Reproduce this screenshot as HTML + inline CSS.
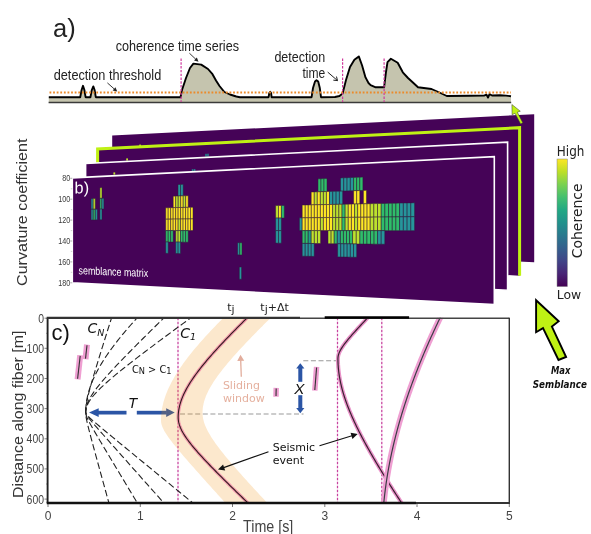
<!DOCTYPE html>
<html><head><meta charset="utf-8"><title>figure</title>
<style>html,body{margin:0;padding:0;background:#fff;} svg{display:block;}</style></head>
<body><svg width="591" height="534" viewBox="0 0 591 534">
<rect width="591" height="534" fill="#fff"/>
<text x="53" y="36.6" font-family="'Liberation Sans', Arial, sans-serif" font-size="25.5" fill="#222">a)</text>
<polygon points="48.80,102.40 48.80,97.20 80.20,97.20 81.60,90.00 83.00,85.80 84.40,90.00 85.60,97.20 90.40,97.20 91.80,90.00 93.30,86.40 94.60,90.00 95.80,97.20 180.50,97.20 182.00,90.00 186.00,78.00 190.00,68.00 193.40,63.60 201.20,64.60 208.00,69.00 212.50,74.20 216.00,80.50 219.50,86.00 224.40,92.00 230.00,94.50 236.30,96.50 240.00,97.20 268.60,97.20 269.30,93.00 270.20,91.80 271.10,93.00 271.60,97.20 311.60,97.20 313.00,88.00 315.00,81.50 316.50,80.20 318.20,81.50 319.80,88.00 321.00,97.20 335.00,97.00 339.50,96.00 342.60,93.50 346.00,80.00 350.00,67.00 354.40,59.80 358.80,56.40 362.10,65.50 365.50,77.40 368.50,83.00 370.60,85.20 375.70,87.30 384.10,87.30 386.00,72.00 387.50,62.10 390.90,58.80 397.70,62.80 402.80,72.30 408.00,78.00 412.90,82.50 418.00,87.30 431.50,89.00 438.30,92.00 446.80,96.00 470.00,95.80 484.00,95.60 486.50,94.60 488.00,97.60 489.50,94.20 492.00,95.50 500.00,95.30 506.00,95.60 511.00,96.30 511.00,102.40" fill="#c5c4ae"/>
<line x1="48.6" y1="102.5" x2="511.2" y2="102.5" stroke="#3a3a3a" stroke-width="1.3"/>
<polyline points="48.80,97.20 80.20,97.20 81.60,90.00 83.00,85.80 84.40,90.00 85.60,97.20 90.40,97.20 91.80,90.00 93.30,86.40 94.60,90.00 95.80,97.20 180.50,97.20 182.00,90.00 186.00,78.00 190.00,68.00 193.40,63.60 201.20,64.60 208.00,69.00 212.50,74.20 216.00,80.50 219.50,86.00 224.40,92.00 230.00,94.50 236.30,96.50 240.00,97.20 268.60,97.20 269.30,93.00 270.20,91.80 271.10,93.00 271.60,97.20 311.60,97.20 313.00,88.00 315.00,81.50 316.50,80.20 318.20,81.50 319.80,88.00 321.00,97.20 335.00,97.00 339.50,96.00 342.60,93.50 346.00,80.00 350.00,67.00 354.40,59.80 358.80,56.40 362.10,65.50 365.50,77.40 368.50,83.00 370.60,85.20 375.70,87.30 384.10,87.30 386.00,72.00 387.50,62.10 390.90,58.80 397.70,62.80 402.80,72.30 408.00,78.00 412.90,82.50 418.00,87.30 431.50,89.00 438.30,92.00 446.80,96.00 470.00,95.80 484.00,95.60 486.50,94.60 488.00,97.60 489.50,94.20 492.00,95.50 500.00,95.30 506.00,95.60 511.00,96.30" fill="none" stroke="#000" stroke-width="1.9" stroke-linejoin="round"/>
<line x1="49.5" y1="92.5" x2="511" y2="92.5" stroke="#ec8a2a" stroke-width="2" stroke-dasharray="1.8 1.8"/>
<line x1="181.1" y1="58.5" x2="181.1" y2="102" stroke="#d0399d" stroke-width="1.2" stroke-dasharray="2.4 1.4"/>
<line x1="342.6" y1="58.5" x2="342.6" y2="102" stroke="#d0399d" stroke-width="1.2" stroke-dasharray="2.4 1.4"/>
<line x1="384.1" y1="58.5" x2="384.1" y2="102" stroke="#d0399d" stroke-width="1.2" stroke-dasharray="2.4 1.4"/>
<text x="53.7" y="80.3" font-family="'Liberation Sans', Arial, sans-serif" font-size="14.4" fill="#222" textLength="107.6" lengthAdjust="spacingAndGlyphs">detection threshold</text>
<line x1="107.40" y1="82.90" x2="114.43" y2="89.14" stroke="#222" stroke-width="0.9"/><polygon points="117.20,91.60 112.66,90.38 115.45,87.24" fill="#222"/>
<text x="115.7" y="51" font-family="'Liberation Sans', Arial, sans-serif" font-size="14.4" fill="#222" textLength="123.3" lengthAdjust="spacingAndGlyphs">coherence time series</text>
<line x1="189.40" y1="53.20" x2="195.81" y2="59.26" stroke="#222" stroke-width="0.9"/><polygon points="198.50,61.80 194.01,60.44 196.89,57.39" fill="#222"/>
<text x="274.4" y="61.9" font-family="'Liberation Sans', Arial, sans-serif" font-size="14.4" fill="#222" textLength="50.8" lengthAdjust="spacingAndGlyphs">detection</text>
<text x="302.4" y="77.7" font-family="'Liberation Sans', Arial, sans-serif" font-size="14.4" fill="#222" textLength="22.8" lengthAdjust="spacingAndGlyphs">time</text>
<line x1="327.70" y1="72.10" x2="337.50" y2="80.60" stroke="#222" stroke-width="1.0"/><polyline points="336.48,76.53 337.50,80.60 333.32,80.17" fill="none" stroke="#222" stroke-width="1.0"/>
<polygon points="112.20,135.60 534.20,114.30 534.20,262.30 112.20,240.60" fill="#450357"/>
<rect x="139.2" y="144.6" width="1.8" height="2.2" fill="#bde22e"/>
<polygon points="97.60,149.00 519.60,127.70 519.60,275.70 97.60,254.00" fill="#450357"/>
<polyline points="97.60,254.00 97.60,149.00 519.60,127.70 519.60,275.70" fill="none" stroke="#bff114" stroke-width="3" stroke-linejoin="miter"/>
<rect x="126.2" y="158.4" width="1.8" height="2.2" fill="#bde22e"/>
<rect x="205.2" y="153.8" width="1.6" height="2.8" fill="#26828e"/><rect x="207.2" y="153.7" width="1.6" height="2.8" fill="#26828e"/>
<polygon points="85.60,163.50 507.60,142.20 507.60,290.20 85.60,268.50" fill="#450357" stroke="#fff" stroke-width="1.6"/>
<rect x="113.4" y="172.4" width="1.8" height="2.2" fill="#bde22e"/>
<rect x="191.8" y="169.2" width="1.6" height="2.8" fill="#26828e"/><rect x="193.8" y="169.1" width="1.6" height="2.8" fill="#26828e"/>
<polygon points="72.30,177.90 494.30,156.60 494.30,304.60 72.30,282.90" fill="#450357" stroke="#fff" stroke-width="1.6"/>
<polygon points="99.90,187.66 102.00,187.58 102.00,198.32 99.90,198.39" fill="#bde22e" stroke="#2e1838" stroke-width="0.5"/>
<polygon points="91.10,198.65 93.20,198.59 93.20,209.24 91.10,209.29" fill="#26959b" stroke="#2e1838" stroke-width="0.5"/>
<polygon points="93.20,198.59 95.30,198.53 95.30,209.20 93.20,209.24" fill="#bde22e" stroke="#2e1838" stroke-width="0.5"/>
<polygon points="99.90,198.39 101.90,198.33 101.90,209.07 99.90,209.11" fill="#2fbd6a" stroke="#2e1838" stroke-width="0.5"/>
<polygon points="101.90,198.33 103.90,198.27 103.90,209.03 101.90,209.07" fill="#26959b" stroke="#2e1838" stroke-width="0.5"/>
<polygon points="91.10,209.29 93.20,209.24 93.20,219.90 91.10,219.92" fill="#26959b" stroke="#2e1838" stroke-width="0.5"/>
<polygon points="93.20,209.24 95.30,209.20 95.30,219.88 93.20,219.90" fill="#2fbd6a" stroke="#2e1838" stroke-width="0.5"/>
<polygon points="95.30,209.20 97.40,209.16 97.40,219.86 95.30,219.88" fill="#26959b" stroke="#2e1838" stroke-width="0.5"/>
<polygon points="99.90,209.11 102.00,209.07 102.00,219.81 99.90,219.83" fill="#26959b" stroke="#2e1838" stroke-width="0.5"/>
<polygon points="178.00,184.51 180.60,184.41 180.60,195.95 178.00,196.03" fill="#26959b" stroke="#2e1838" stroke-width="0.5"/>
<polygon points="180.60,184.41 183.20,184.30 183.20,195.87 180.60,195.95" fill="#26959b" stroke="#2e1838" stroke-width="0.5"/>
<polygon points="173.20,196.17 175.70,196.10 175.70,207.59 173.20,207.64" fill="#fde725" stroke="#2e1838" stroke-width="0.5"/>
<polygon points="175.70,196.10 178.20,196.02 178.20,207.54 175.70,207.59" fill="#bde22e" stroke="#2e1838" stroke-width="0.5"/>
<polygon points="178.20,196.02 180.70,195.95 180.70,207.49 178.20,207.54" fill="#bde22e" stroke="#2e1838" stroke-width="0.5"/>
<polygon points="180.70,195.95 183.20,195.87 183.20,207.44 180.70,207.49" fill="#fde725" stroke="#2e1838" stroke-width="0.5"/>
<polygon points="183.20,195.87 185.70,195.80 185.70,207.39 183.20,207.44" fill="#bde22e" stroke="#2e1838" stroke-width="0.5"/>
<polygon points="185.70,195.80 188.20,195.72 188.20,207.34 185.70,207.39" fill="#fde725" stroke="#2e1838" stroke-width="0.5"/>
<polygon points="165.70,207.79 168.18,207.74 168.18,219.16 165.70,219.18" fill="#fde725" stroke="#2e1838" stroke-width="0.5"/>
<polygon points="168.18,207.74 170.66,207.69 170.66,219.13 168.18,219.16" fill="#fde725" stroke="#2e1838" stroke-width="0.5"/>
<polygon points="170.66,207.69 173.15,207.64 173.15,219.11 170.66,219.13" fill="#fde725" stroke="#2e1838" stroke-width="0.5"/>
<polygon points="173.15,207.64 175.63,207.59 175.63,219.08 173.15,219.11" fill="#fde725" stroke="#2e1838" stroke-width="0.5"/>
<polygon points="175.63,207.59 178.11,207.54 178.11,219.06 175.63,219.08" fill="#fde725" stroke="#2e1838" stroke-width="0.5"/>
<polygon points="178.11,207.54 180.59,207.49 180.59,219.03 178.11,219.06" fill="#fde725" stroke="#2e1838" stroke-width="0.5"/>
<polygon points="180.59,207.49 183.07,207.44 183.07,219.01 180.59,219.03" fill="#fde725" stroke="#2e1838" stroke-width="0.5"/>
<polygon points="183.07,207.44 185.55,207.39 185.55,218.99 183.07,219.01" fill="#fde725" stroke="#2e1838" stroke-width="0.5"/>
<polygon points="185.55,207.39 188.04,207.34 188.04,218.96 185.55,218.99" fill="#fde725" stroke="#2e1838" stroke-width="0.5"/>
<polygon points="188.04,207.34 190.52,207.29 190.52,218.94 188.04,218.96" fill="#fde725" stroke="#2e1838" stroke-width="0.5"/>
<polygon points="190.52,207.29 193.00,207.24 193.00,218.91 190.52,218.94" fill="#fde725" stroke="#2e1838" stroke-width="0.5"/>
<polygon points="165.70,219.18 168.18,219.16 168.18,230.57 165.70,230.57" fill="#fde725" stroke="#2e1838" stroke-width="0.5"/>
<polygon points="168.18,219.16 170.66,219.13 170.66,230.57 168.18,230.57" fill="#fde725" stroke="#2e1838" stroke-width="0.5"/>
<polygon points="170.66,219.13 173.15,219.11 173.15,230.58 170.66,230.57" fill="#fde725" stroke="#2e1838" stroke-width="0.5"/>
<polygon points="173.15,219.11 175.63,219.08 175.63,230.58 173.15,230.58" fill="#fde725" stroke="#2e1838" stroke-width="0.5"/>
<polygon points="175.63,219.08 178.11,219.06 178.11,230.58 175.63,230.58" fill="#fde725" stroke="#2e1838" stroke-width="0.5"/>
<polygon points="178.11,219.06 180.59,219.03 180.59,230.58 178.11,230.58" fill="#bde22e" stroke="#2e1838" stroke-width="0.5"/>
<polygon points="180.59,219.03 183.07,219.01 183.07,230.58 180.59,230.58" fill="#fde725" stroke="#2e1838" stroke-width="0.5"/>
<polygon points="183.07,219.01 185.55,218.99 185.55,230.58 183.07,230.58" fill="#fde725" stroke="#2e1838" stroke-width="0.5"/>
<polygon points="185.55,218.99 188.04,218.96 188.04,230.58 185.55,230.58" fill="#fde725" stroke="#2e1838" stroke-width="0.5"/>
<polygon points="188.04,218.96 190.52,218.94 190.52,230.58 188.04,230.58" fill="#fde725" stroke="#2e1838" stroke-width="0.5"/>
<polygon points="190.52,218.94 193.00,218.91 193.00,230.58 190.52,230.58" fill="#fde725" stroke="#2e1838" stroke-width="0.5"/>
<polygon points="165.70,230.57 168.20,230.57 168.20,241.99 165.70,241.96" fill="#2fbd6a" stroke="#2e1838" stroke-width="0.5"/>
<polygon points="168.20,230.57 170.70,230.57 170.70,242.02 168.20,241.99" fill="#2fbd6a" stroke="#2e1838" stroke-width="0.5"/>
<polygon points="170.70,230.57 173.20,230.58 173.20,242.04 170.70,242.02" fill="#2fbd6a" stroke="#2e1838" stroke-width="0.5"/>
<polygon points="175.70,230.58 178.10,230.58 178.10,242.09 175.70,242.07" fill="#bde22e" stroke="#2e1838" stroke-width="0.5"/>
<polygon points="178.10,230.58 180.50,230.58 180.50,242.12 178.10,242.09" fill="#bde22e" stroke="#2e1838" stroke-width="0.5"/>
<polygon points="180.50,230.58 183.07,230.58 183.07,242.14 180.50,242.12" fill="#2fbd6a" stroke="#2e1838" stroke-width="0.5"/>
<polygon points="183.07,230.58 185.63,230.58 185.63,242.17 183.07,242.14" fill="#2fbd6a" stroke="#2e1838" stroke-width="0.5"/>
<polygon points="185.63,230.58 188.20,230.58 188.20,242.20 185.63,242.17" fill="#2fbd6a" stroke="#2e1838" stroke-width="0.5"/>
<polygon points="165.70,241.96 168.20,241.99 168.20,253.41 165.70,253.35" fill="#26959b" stroke="#2e1838" stroke-width="0.5"/>
<polygon points="175.70,242.07 178.10,242.09 178.10,253.61 175.70,253.56" fill="#26959b" stroke="#2e1838" stroke-width="0.5"/>
<polygon points="178.10,242.09 180.50,242.12 180.50,253.66 178.10,253.61" fill="#26959b" stroke="#2e1838" stroke-width="0.5"/>
<polygon points="237.60,242.71 239.80,242.73 239.80,254.88 237.60,254.83" fill="#26959b" stroke="#2e1838" stroke-width="0.5"/>
<polygon points="239.80,242.73 242.00,242.76 242.00,254.92 239.80,254.88" fill="#2fbd6a" stroke="#2e1838" stroke-width="0.5"/>
<polygon points="239.30,267.01 241.60,267.08 241.60,279.24 239.30,279.14" fill="#26959b" stroke="#2e1838" stroke-width="0.5"/>
<polygon points="275.60,205.59 278.50,205.53 278.50,218.07 275.60,218.09" fill="#bde22e" stroke="#2e1838" stroke-width="0.5"/>
<polygon points="278.50,205.53 281.40,205.47 281.40,218.04 278.50,218.07" fill="#fde725" stroke="#2e1838" stroke-width="0.5"/>
<polygon points="281.40,205.47 284.30,205.41 284.30,218.01 281.40,218.04" fill="#2fbd6a" stroke="#2e1838" stroke-width="0.5"/>
<polygon points="275.60,218.09 278.50,218.07 278.50,230.60 275.60,230.60" fill="#26959b" stroke="#2e1838" stroke-width="0.5"/>
<polygon points="278.50,218.07 281.40,218.04 281.40,230.60 278.50,230.60" fill="#26959b" stroke="#2e1838" stroke-width="0.5"/>
<polygon points="275.60,230.60 278.50,230.60 278.50,243.14 275.60,243.11" fill="#26959b" stroke="#2e1838" stroke-width="0.5"/>
<polygon points="278.50,230.60 281.40,230.60 281.40,243.17 278.50,243.14" fill="#26959b" stroke="#2e1838" stroke-width="0.5"/>
<polygon points="318.00,178.86 321.00,178.74 321.00,191.71 318.00,191.80" fill="#2fbd6a" stroke="#2e1838" stroke-width="0.5"/>
<polygon points="321.00,178.74 324.00,178.62 324.00,191.62 321.00,191.71" fill="#2fbd6a" stroke="#2e1838" stroke-width="0.5"/>
<polygon points="324.00,178.62 327.00,178.50 327.00,191.53 324.00,191.62" fill="#2fbd6a" stroke="#2e1838" stroke-width="0.5"/>
<polygon points="340.50,177.96 343.77,177.82 343.77,191.02 340.50,191.12" fill="#26959b" stroke="#2e1838" stroke-width="0.5"/>
<polygon points="343.77,177.82 347.05,177.69 347.05,190.92 343.77,191.02" fill="#26959b" stroke="#2e1838" stroke-width="0.5"/>
<polygon points="347.05,177.69 350.33,177.56 350.33,190.82 347.05,190.92" fill="#26959b" stroke="#2e1838" stroke-width="0.5"/>
<polygon points="350.33,177.56 353.60,177.43 353.60,190.73 350.33,190.82" fill="#26959b" stroke="#2e1838" stroke-width="0.5"/>
<polygon points="353.60,177.43 356.70,177.30 356.70,190.63 353.60,190.73" fill="#2fbd6a" stroke="#2e1838" stroke-width="0.5"/>
<polygon points="356.70,177.30 359.80,177.18 359.80,190.54 356.70,190.63" fill="#2fbd6a" stroke="#2e1838" stroke-width="0.5"/>
<polygon points="359.80,177.18 362.90,177.05 362.90,190.45 359.80,190.54" fill="#2fbd6a" stroke="#2e1838" stroke-width="0.5"/>
<polygon points="311.20,192.01 314.25,191.91 314.25,204.81 311.20,204.87" fill="#fde725" stroke="#2e1838" stroke-width="0.5"/>
<polygon points="314.25,191.91 317.30,191.82 317.30,204.75 314.25,204.81" fill="#bde22e" stroke="#2e1838" stroke-width="0.5"/>
<polygon points="317.30,191.82 320.35,191.73 320.35,204.69 317.30,204.75" fill="#fde725" stroke="#2e1838" stroke-width="0.5"/>
<polygon points="320.35,191.73 323.40,191.64 323.40,204.63 320.35,204.69" fill="#bde22e" stroke="#2e1838" stroke-width="0.5"/>
<polygon points="323.40,191.64 326.45,191.55 326.45,204.57 323.40,204.63" fill="#bde22e" stroke="#2e1838" stroke-width="0.5"/>
<polygon points="326.45,191.55 329.50,191.45 329.50,204.51 326.45,204.57" fill="#fde725" stroke="#2e1838" stroke-width="0.5"/>
<polygon points="329.50,191.45 332.80,191.35 332.80,204.44 329.50,204.51" fill="#26959b" stroke="#2e1838" stroke-width="0.5"/>
<polygon points="332.80,191.35 336.10,191.25 336.10,204.37 332.80,204.44" fill="#26959b" stroke="#2e1838" stroke-width="0.5"/>
<polygon points="336.10,191.25 339.40,191.15 339.40,204.31 336.10,204.37" fill="#26959b" stroke="#2e1838" stroke-width="0.5"/>
<polygon points="339.40,191.15 342.70,191.06 342.70,204.24 339.40,204.31" fill="#26959b" stroke="#2e1838" stroke-width="0.5"/>
<polygon points="353.60,190.73 356.70,190.63 356.70,203.96 353.60,204.02" fill="#fde725" stroke="#2e1838" stroke-width="0.5"/>
<polygon points="356.70,190.63 359.80,190.54 359.80,203.90 356.70,203.96" fill="#fde725" stroke="#2e1838" stroke-width="0.5"/>
<polygon points="363.40,190.43 366.50,190.34 366.50,203.77 363.40,203.83" fill="#fde725" stroke="#2e1838" stroke-width="0.5"/>
<polygon points="302.20,205.05 305.23,204.99 305.23,217.80 302.20,217.83" fill="#fde725" stroke="#2e1838" stroke-width="0.5"/>
<polygon points="305.23,204.99 308.27,204.93 308.27,217.77 305.23,217.80" fill="#fde725" stroke="#2e1838" stroke-width="0.5"/>
<polygon points="308.27,204.93 311.30,204.87 311.30,217.74 308.27,217.77" fill="#fde725" stroke="#2e1838" stroke-width="0.5"/>
<polygon points="311.30,204.87 314.33,204.81 314.33,217.71 311.30,217.74" fill="#fde725" stroke="#2e1838" stroke-width="0.5"/>
<polygon points="314.33,204.81 317.37,204.75 317.37,217.68 314.33,217.71" fill="#fde725" stroke="#2e1838" stroke-width="0.5"/>
<polygon points="317.37,204.75 320.40,204.69 320.40,217.65 317.37,217.68" fill="#fde725" stroke="#2e1838" stroke-width="0.5"/>
<polygon points="320.40,204.69 323.43,204.63 323.43,217.62 320.40,217.65" fill="#fde725" stroke="#2e1838" stroke-width="0.5"/>
<polygon points="323.43,204.63 326.47,204.57 326.47,217.59 323.43,217.62" fill="#fde725" stroke="#2e1838" stroke-width="0.5"/>
<polygon points="326.47,204.57 329.50,204.51 329.50,217.56 326.47,217.59" fill="#fde725" stroke="#2e1838" stroke-width="0.5"/>
<polygon points="329.50,204.51 332.63,204.44 332.63,217.53 329.50,217.56" fill="#fde725" stroke="#2e1838" stroke-width="0.5"/>
<polygon points="332.63,204.44 335.76,204.38 335.76,217.50 332.63,217.53" fill="#bde22e" stroke="#2e1838" stroke-width="0.5"/>
<polygon points="335.76,204.38 338.89,204.32 338.89,217.47 335.76,217.50" fill="#bde22e" stroke="#2e1838" stroke-width="0.5"/>
<polygon points="338.89,204.32 342.02,204.26 342.02,217.44 338.89,217.47" fill="#bde22e" stroke="#2e1838" stroke-width="0.5"/>
<polygon points="342.02,204.26 345.15,204.19 345.15,217.41 342.02,217.44" fill="#2fbd6a" stroke="#2e1838" stroke-width="0.5"/>
<polygon points="345.15,204.19 348.28,204.13 348.28,217.37 345.15,217.41" fill="#bde22e" stroke="#2e1838" stroke-width="0.5"/>
<polygon points="348.28,204.13 351.42,204.07 351.42,217.34 348.28,217.37" fill="#fde725" stroke="#2e1838" stroke-width="0.5"/>
<polygon points="351.42,204.07 354.55,204.00 354.55,217.31 351.42,217.34" fill="#fde725" stroke="#2e1838" stroke-width="0.5"/>
<polygon points="354.55,204.00 357.68,203.94 357.68,217.28 354.55,217.31" fill="#bde22e" stroke="#2e1838" stroke-width="0.5"/>
<polygon points="357.68,203.94 360.81,203.88 360.81,217.25 357.68,217.28" fill="#fde725" stroke="#2e1838" stroke-width="0.5"/>
<polygon points="360.81,203.88 363.94,203.82 363.94,217.22 360.81,217.25" fill="#fde725" stroke="#2e1838" stroke-width="0.5"/>
<polygon points="363.94,203.82 367.07,203.75 367.07,217.19 363.94,217.22" fill="#fde725" stroke="#2e1838" stroke-width="0.5"/>
<polygon points="367.07,203.75 370.20,203.69 370.20,217.16 367.07,217.19" fill="#fde725" stroke="#2e1838" stroke-width="0.5"/>
<polygon points="370.20,203.69 373.87,203.62 373.87,217.12 370.20,217.16" fill="#bde22e" stroke="#2e1838" stroke-width="0.5"/>
<polygon points="373.87,203.62 377.53,203.54 377.53,217.09 373.87,217.12" fill="#bde22e" stroke="#2e1838" stroke-width="0.5"/>
<polygon points="377.53,203.54 381.20,203.47 381.20,217.05 377.53,217.09" fill="#bde22e" stroke="#2e1838" stroke-width="0.5"/>
<polygon points="381.20,203.47 384.88,203.40 384.88,217.01 381.20,217.05" fill="#2fbd6a" stroke="#2e1838" stroke-width="0.5"/>
<polygon points="384.88,203.40 388.56,203.32 388.56,216.98 384.88,217.01" fill="#2fbd6a" stroke="#2e1838" stroke-width="0.5"/>
<polygon points="388.56,203.32 392.24,203.25 392.24,216.94 388.56,216.98" fill="#2fbd6a" stroke="#2e1838" stroke-width="0.5"/>
<polygon points="392.24,203.25 395.92,203.18 395.92,216.90 392.24,216.94" fill="#2fbd6a" stroke="#2e1838" stroke-width="0.5"/>
<polygon points="395.92,203.18 399.60,203.10 399.60,216.87 395.92,216.90" fill="#2fbd6a" stroke="#2e1838" stroke-width="0.5"/>
<polygon points="399.60,203.10 403.35,203.03 403.35,216.83 399.60,216.87" fill="#26959b" stroke="#2e1838" stroke-width="0.5"/>
<polygon points="403.35,203.03 407.10,202.95 407.10,216.79 403.35,216.83" fill="#26959b" stroke="#2e1838" stroke-width="0.5"/>
<polygon points="407.10,202.95 410.85,202.88 410.85,216.76 407.10,216.79" fill="#26959b" stroke="#2e1838" stroke-width="0.5"/>
<polygon points="410.85,202.88 414.60,202.80 414.60,216.72 410.85,216.76" fill="#26959b" stroke="#2e1838" stroke-width="0.5"/>
<polygon points="299.40,217.86 302.20,217.83 302.20,230.61 299.40,230.61" fill="#26959b" stroke="#2e1838" stroke-width="0.5"/>
<polygon points="302.20,217.83 305.23,217.80 305.23,230.61 302.20,230.61" fill="#fde725" stroke="#2e1838" stroke-width="0.5"/>
<polygon points="305.23,217.80 308.27,217.77 308.27,230.61 305.23,230.61" fill="#fde725" stroke="#2e1838" stroke-width="0.5"/>
<polygon points="308.27,217.77 311.30,217.74 311.30,230.61 308.27,230.61" fill="#fde725" stroke="#2e1838" stroke-width="0.5"/>
<polygon points="311.30,217.74 314.33,217.71 314.33,230.61 311.30,230.61" fill="#fde725" stroke="#2e1838" stroke-width="0.5"/>
<polygon points="314.33,217.71 317.37,217.68 317.37,230.61 314.33,230.61" fill="#fde725" stroke="#2e1838" stroke-width="0.5"/>
<polygon points="317.37,217.68 320.40,217.65 320.40,230.61 317.37,230.61" fill="#fde725" stroke="#2e1838" stroke-width="0.5"/>
<polygon points="320.40,217.65 323.43,217.62 323.43,230.61 320.40,230.61" fill="#bde22e" stroke="#2e1838" stroke-width="0.5"/>
<polygon points="323.43,217.62 326.47,217.59 326.47,230.61 323.43,230.61" fill="#fde725" stroke="#2e1838" stroke-width="0.5"/>
<polygon points="326.47,217.59 329.50,217.56 329.50,230.61 326.47,230.61" fill="#fde725" stroke="#2e1838" stroke-width="0.5"/>
<polygon points="329.50,217.56 332.63,217.53 332.63,230.61 329.50,230.61" fill="#fde725" stroke="#2e1838" stroke-width="0.5"/>
<polygon points="332.63,217.53 335.76,217.50 335.76,230.62 332.63,230.61" fill="#bde22e" stroke="#2e1838" stroke-width="0.5"/>
<polygon points="335.76,217.50 338.89,217.47 338.89,230.62 335.76,230.62" fill="#bde22e" stroke="#2e1838" stroke-width="0.5"/>
<polygon points="338.89,217.47 342.02,217.44 342.02,230.62 338.89,230.62" fill="#bde22e" stroke="#2e1838" stroke-width="0.5"/>
<polygon points="342.02,217.44 345.15,217.41 345.15,230.62 342.02,230.62" fill="#2fbd6a" stroke="#2e1838" stroke-width="0.5"/>
<polygon points="345.15,217.41 348.28,217.37 348.28,230.62 345.15,230.62" fill="#bde22e" stroke="#2e1838" stroke-width="0.5"/>
<polygon points="348.28,217.37 351.42,217.34 351.42,230.62 348.28,230.62" fill="#fde725" stroke="#2e1838" stroke-width="0.5"/>
<polygon points="351.42,217.34 354.55,217.31 354.55,230.62 351.42,230.62" fill="#fde725" stroke="#2e1838" stroke-width="0.5"/>
<polygon points="354.55,217.31 357.68,217.28 357.68,230.62 354.55,230.62" fill="#bde22e" stroke="#2e1838" stroke-width="0.5"/>
<polygon points="357.68,217.28 360.81,217.25 360.81,230.62 357.68,230.62" fill="#fde725" stroke="#2e1838" stroke-width="0.5"/>
<polygon points="360.81,217.25 363.94,217.22 363.94,230.62 360.81,230.62" fill="#fde725" stroke="#2e1838" stroke-width="0.5"/>
<polygon points="363.94,217.22 367.07,217.19 367.07,230.62 363.94,230.62" fill="#fde725" stroke="#2e1838" stroke-width="0.5"/>
<polygon points="367.07,217.19 370.20,217.16 370.20,230.62 367.07,230.62" fill="#fde725" stroke="#2e1838" stroke-width="0.5"/>
<polygon points="370.20,217.16 373.87,217.12 373.87,230.63 370.20,230.62" fill="#bde22e" stroke="#2e1838" stroke-width="0.5"/>
<polygon points="373.87,217.12 377.53,217.09 377.53,230.63 373.87,230.63" fill="#bde22e" stroke="#2e1838" stroke-width="0.5"/>
<polygon points="377.53,217.09 381.20,217.05 381.20,230.63 377.53,230.63" fill="#bde22e" stroke="#2e1838" stroke-width="0.5"/>
<polygon points="381.20,217.05 384.88,217.01 384.88,230.63 381.20,230.63" fill="#2fbd6a" stroke="#2e1838" stroke-width="0.5"/>
<polygon points="384.88,217.01 388.56,216.98 388.56,230.63 384.88,230.63" fill="#2fbd6a" stroke="#2e1838" stroke-width="0.5"/>
<polygon points="388.56,216.98 392.24,216.94 392.24,230.63 388.56,230.63" fill="#2fbd6a" stroke="#2e1838" stroke-width="0.5"/>
<polygon points="392.24,216.94 395.92,216.90 395.92,230.63 392.24,230.63" fill="#2fbd6a" stroke="#2e1838" stroke-width="0.5"/>
<polygon points="395.92,216.90 399.60,216.87 399.60,230.63 395.92,230.63" fill="#2fbd6a" stroke="#2e1838" stroke-width="0.5"/>
<polygon points="399.60,216.87 403.35,216.83 403.35,230.63 399.60,230.63" fill="#26959b" stroke="#2e1838" stroke-width="0.5"/>
<polygon points="403.35,216.83 407.10,216.79 407.10,230.63 403.35,230.63" fill="#26959b" stroke="#2e1838" stroke-width="0.5"/>
<polygon points="407.10,216.79 410.85,216.76 410.85,230.63 407.10,230.63" fill="#26959b" stroke="#2e1838" stroke-width="0.5"/>
<polygon points="410.85,216.76 414.60,216.72 414.60,230.64 410.85,230.63" fill="#26959b" stroke="#2e1838" stroke-width="0.5"/>
<polygon points="302.20,230.61 305.20,230.61 305.20,243.41 302.20,243.38" fill="#2fbd6a" stroke="#2e1838" stroke-width="0.5"/>
<polygon points="305.20,230.61 308.20,230.61 308.20,243.45 305.20,243.41" fill="#2fbd6a" stroke="#2e1838" stroke-width="0.5"/>
<polygon points="308.20,230.61 311.20,230.61 311.20,243.48 308.20,243.45" fill="#1fa088" stroke="#2e1838" stroke-width="0.5"/>
<polygon points="311.20,230.61 314.33,230.61 314.33,243.51 311.20,243.48" fill="#bde22e" stroke="#2e1838" stroke-width="0.5"/>
<polygon points="314.33,230.61 317.47,230.61 317.47,243.54 314.33,243.51" fill="#bde22e" stroke="#2e1838" stroke-width="0.5"/>
<polygon points="317.47,230.61 320.60,230.61 320.60,243.58 317.47,243.54" fill="#bde22e" stroke="#2e1838" stroke-width="0.5"/>
<polygon points="328.00,230.61 331.10,230.61 331.10,243.68 328.00,243.65" fill="#bde22e" stroke="#2e1838" stroke-width="0.5"/>
<polygon points="331.10,230.61 334.20,230.62 334.20,243.72 331.10,243.68" fill="#bde22e" stroke="#2e1838" stroke-width="0.5"/>
<polygon points="334.20,230.62 337.30,230.62 337.30,243.75 334.20,243.72" fill="#2fbd6a" stroke="#2e1838" stroke-width="0.5"/>
<polygon points="337.30,230.62 340.40,230.62 340.40,243.78 337.30,243.75" fill="#26959b" stroke="#2e1838" stroke-width="0.5"/>
<polygon points="340.40,230.62 343.45,230.62 343.45,243.81 340.40,243.78" fill="#2fbd6a" stroke="#2e1838" stroke-width="0.5"/>
<polygon points="343.45,230.62 346.50,230.62 346.50,243.84 343.45,243.81" fill="#2fbd6a" stroke="#2e1838" stroke-width="0.5"/>
<polygon points="346.50,230.62 349.55,230.62 349.55,243.88 346.50,243.84" fill="#2fbd6a" stroke="#2e1838" stroke-width="0.5"/>
<polygon points="349.55,230.62 352.60,230.62 352.60,243.91 349.55,243.88" fill="#2fbd6a" stroke="#2e1838" stroke-width="0.5"/>
<polygon points="352.60,230.62 356.25,230.62 356.25,243.95 352.60,243.91" fill="#bde22e" stroke="#2e1838" stroke-width="0.5"/>
<polygon points="356.25,230.62 359.90,230.62 359.90,243.98 356.25,243.95" fill="#bde22e" stroke="#2e1838" stroke-width="0.5"/>
<polygon points="359.90,230.62 363.44,230.62 363.44,244.02 359.90,243.98" fill="#2fbd6a" stroke="#2e1838" stroke-width="0.5"/>
<polygon points="363.44,230.62 366.98,230.62 366.98,244.06 363.44,244.02" fill="#2fbd6a" stroke="#2e1838" stroke-width="0.5"/>
<polygon points="366.98,230.62 370.52,230.62 370.52,244.09 366.98,244.06" fill="#2fbd6a" stroke="#2e1838" stroke-width="0.5"/>
<polygon points="370.52,230.62 374.06,230.63 374.06,244.13 370.52,244.09" fill="#2fbd6a" stroke="#2e1838" stroke-width="0.5"/>
<polygon points="374.06,230.63 377.60,230.63 377.60,244.17 374.06,244.13" fill="#2fbd6a" stroke="#2e1838" stroke-width="0.5"/>
<polygon points="377.60,230.63 381.20,230.63 381.20,244.21 377.60,244.17" fill="#26959b" stroke="#2e1838" stroke-width="0.5"/>
<polygon points="381.20,230.63 384.80,230.63 384.80,244.24 381.20,244.21" fill="#26959b" stroke="#2e1838" stroke-width="0.5"/>
<polygon points="302.20,243.38 305.20,243.41 305.20,256.22 302.20,256.16" fill="#26959b" stroke="#2e1838" stroke-width="0.5"/>
<polygon points="305.20,243.41 308.20,243.45 308.20,256.28 305.20,256.22" fill="#26959b" stroke="#2e1838" stroke-width="0.5"/>
<polygon points="308.20,243.45 311.20,243.48 311.20,256.35 308.20,256.28" fill="#26959b" stroke="#2e1838" stroke-width="0.5"/>
<polygon points="311.20,243.48 314.20,243.51 314.20,256.41 311.20,256.35" fill="#26959b" stroke="#2e1838" stroke-width="0.5"/>
<polygon points="337.60,243.75 340.78,243.78 340.78,256.95 337.60,256.89" fill="#26959b" stroke="#2e1838" stroke-width="0.5"/>
<polygon points="340.78,243.78 343.97,243.82 343.97,257.02 340.78,256.95" fill="#26959b" stroke="#2e1838" stroke-width="0.5"/>
<polygon points="343.97,243.82 347.15,243.85 347.15,257.08 343.97,257.02" fill="#26959b" stroke="#2e1838" stroke-width="0.5"/>
<polygon points="347.15,243.85 350.33,243.88 350.33,257.15 347.15,257.08" fill="#26959b" stroke="#2e1838" stroke-width="0.5"/>
<polygon points="350.33,243.88 353.52,243.92 353.52,257.21 350.33,257.15" fill="#26959b" stroke="#2e1838" stroke-width="0.5"/>
<polygon points="353.52,243.92 356.70,243.95 356.70,257.28 353.52,257.21" fill="#26959b" stroke="#2e1838" stroke-width="0.5"/>
<text x="74.6" y="193.6" font-family="'Liberation Sans', Arial, sans-serif" font-size="16.3" fill="#fff" transform="skewY(-2.6)" transform-origin="75 190">b)</text>
<text x="78.6" y="274.2" font-family="'Liberation Sans', Arial, sans-serif" font-size="11.2" fill="#fff" textLength="69.5" lengthAdjust="spacingAndGlyphs" transform="skewY(2.3)" transform-origin="79 275">semblance matrix</text>
<text x="70.3" y="181.2" font-family="'Liberation Sans', Arial, sans-serif" font-size="9" fill="#3a3a3a" text-anchor="end" textLength="8.0" lengthAdjust="spacingAndGlyphs">80</text>
<line x1="70.2" y1="178.3" x2="72.3" y2="178.3" stroke="#999" stroke-width="0.8"/>
<text x="70.3" y="202.1" font-family="'Liberation Sans', Arial, sans-serif" font-size="9" fill="#3a3a3a" text-anchor="end" textLength="12.0" lengthAdjust="spacingAndGlyphs">100</text>
<line x1="70.2" y1="199.2" x2="72.3" y2="199.2" stroke="#999" stroke-width="0.8"/>
<text x="70.3" y="223.0" font-family="'Liberation Sans', Arial, sans-serif" font-size="9" fill="#3a3a3a" text-anchor="end" textLength="12.0" lengthAdjust="spacingAndGlyphs">120</text>
<line x1="70.2" y1="220.1" x2="72.3" y2="220.1" stroke="#999" stroke-width="0.8"/>
<text x="70.3" y="243.9" font-family="'Liberation Sans', Arial, sans-serif" font-size="9" fill="#3a3a3a" text-anchor="end" textLength="12.0" lengthAdjust="spacingAndGlyphs">140</text>
<line x1="70.2" y1="241.0" x2="72.3" y2="241.0" stroke="#999" stroke-width="0.8"/>
<text x="70.3" y="264.8" font-family="'Liberation Sans', Arial, sans-serif" font-size="9" fill="#3a3a3a" text-anchor="end" textLength="12.0" lengthAdjust="spacingAndGlyphs">160</text>
<line x1="70.2" y1="261.9" x2="72.3" y2="261.9" stroke="#999" stroke-width="0.8"/>
<text x="70.3" y="285.7" font-family="'Liberation Sans', Arial, sans-serif" font-size="9" fill="#3a3a3a" text-anchor="end" textLength="12.0" lengthAdjust="spacingAndGlyphs">180</text>
<line x1="70.2" y1="282.8" x2="72.3" y2="282.8" stroke="#999" stroke-width="0.8"/>
<line x1="70.8" y1="188.8" x2="72.3" y2="188.8" stroke="#bbb" stroke-width="0.7"/>
<line x1="70.8" y1="209.7" x2="72.3" y2="209.7" stroke="#bbb" stroke-width="0.7"/>
<line x1="70.8" y1="230.6" x2="72.3" y2="230.6" stroke="#bbb" stroke-width="0.7"/>
<line x1="70.8" y1="251.4" x2="72.3" y2="251.4" stroke="#bbb" stroke-width="0.7"/>
<line x1="70.8" y1="272.3" x2="72.3" y2="272.3" stroke="#bbb" stroke-width="0.7"/>
<text transform="translate(27.0,286) rotate(-90)" font-family="'Liberation Sans', Arial, sans-serif" font-size="15.2" fill="#333" textLength="147.5" lengthAdjust="spacingAndGlyphs">Curvature coefficient</text>
<defs><linearGradient id="vir" x1="0" y1="1" x2="0" y2="0"><stop offset="0" stop-color="#440154"/><stop offset="0.1" stop-color="#482475"/><stop offset="0.2" stop-color="#414487"/><stop offset="0.3" stop-color="#355f8d"/><stop offset="0.4" stop-color="#2a788e"/><stop offset="0.5" stop-color="#21918c"/><stop offset="0.6" stop-color="#22a884"/><stop offset="0.7" stop-color="#44bf70"/><stop offset="0.8" stop-color="#7ad151"/><stop offset="0.9" stop-color="#bddf26"/><stop offset="1" stop-color="#fde725"/></linearGradient></defs>
<rect x="557" y="159" width="10.4" height="127.6" fill="url(#vir)" stroke="#888" stroke-width="0.5"/>
<text x="556.8" y="155.7" font-family="'DejaVu Sans', sans-serif" font-size="13.2" fill="#222" textLength="27.6" lengthAdjust="spacingAndGlyphs">High</text>
<text x="556.8" y="299" font-family="'DejaVu Sans', sans-serif" font-size="13" fill="#222" textLength="24.4" lengthAdjust="spacingAndGlyphs">Low</text>
<text transform="translate(581.5,258.3) rotate(-90)" font-family="'DejaVu Sans', sans-serif" font-size="14" fill="#222" textLength="74.9" lengthAdjust="spacingAndGlyphs">Coherence</text>
<polygon points="536.10,300.30 536.10,332.20 543.00,328.10 558.50,360.00 566.10,357.00 551.90,326.60 558.70,321.30" fill="#bff114" stroke="#000" stroke-width="1.9" stroke-linejoin="miter"/>
<polygon points="511.90,104.50 512.10,114.80 515.00,113.30 520.60,123.90 522.80,122.80 517.30,112.20 520.30,111.20" fill="#bff114" stroke="#333" stroke-width="0.5"/>
<text x="550.9" y="374.1" font-family="'DejaVu Sans', sans-serif" font-size="9.6" font-weight="bold" font-style="italic" fill="#111" textLength="19.5" lengthAdjust="spacingAndGlyphs">Max</text>
<text x="532.8" y="387.8" font-family="'DejaVu Sans', sans-serif" font-size="9.6" font-weight="bold" font-style="italic" fill="#111" textLength="54.1" lengthAdjust="spacingAndGlyphs">Semblance</text>
<defs><clipPath id="box"><rect x="47.6" y="317.8" width="461.7" height="185.2"/></clipPath></defs>
<text x="44" y="322.6" font-family="'Liberation Sans', Arial, sans-serif" font-size="12.2" fill="#444" text-anchor="end" textLength="5.8" lengthAdjust="spacingAndGlyphs">0</text>
<line x1="44.5" y1="318.2" x2="47.6" y2="318.2" stroke="#666" stroke-width="0.8"/>
<line x1="46" y1="333.3" x2="47.6" y2="333.3" stroke="#888" stroke-width="0.7"/>
<text x="44" y="352.7" font-family="'Liberation Sans', Arial, sans-serif" font-size="12.2" fill="#444" text-anchor="end" textLength="17.4" lengthAdjust="spacingAndGlyphs">100</text>
<line x1="44.5" y1="348.3" x2="47.6" y2="348.3" stroke="#666" stroke-width="0.8"/>
<line x1="46" y1="363.4" x2="47.6" y2="363.4" stroke="#888" stroke-width="0.7"/>
<text x="44" y="382.9" font-family="'Liberation Sans', Arial, sans-serif" font-size="12.2" fill="#444" text-anchor="end" textLength="17.4" lengthAdjust="spacingAndGlyphs">200</text>
<line x1="44.5" y1="378.5" x2="47.6" y2="378.5" stroke="#666" stroke-width="0.8"/>
<line x1="46" y1="393.6" x2="47.6" y2="393.6" stroke="#888" stroke-width="0.7"/>
<text x="44" y="413.0" font-family="'Liberation Sans', Arial, sans-serif" font-size="12.2" fill="#444" text-anchor="end" textLength="17.4" lengthAdjust="spacingAndGlyphs">300</text>
<line x1="44.5" y1="408.6" x2="47.6" y2="408.6" stroke="#666" stroke-width="0.8"/>
<line x1="46" y1="423.7" x2="47.6" y2="423.7" stroke="#888" stroke-width="0.7"/>
<text x="44" y="443.2" font-family="'Liberation Sans', Arial, sans-serif" font-size="12.2" fill="#444" text-anchor="end" textLength="17.4" lengthAdjust="spacingAndGlyphs">400</text>
<line x1="44.5" y1="438.8" x2="47.6" y2="438.8" stroke="#666" stroke-width="0.8"/>
<line x1="46" y1="453.9" x2="47.6" y2="453.9" stroke="#888" stroke-width="0.7"/>
<text x="44" y="473.3" font-family="'Liberation Sans', Arial, sans-serif" font-size="12.2" fill="#444" text-anchor="end" textLength="17.4" lengthAdjust="spacingAndGlyphs">500</text>
<line x1="44.5" y1="468.9" x2="47.6" y2="468.9" stroke="#666" stroke-width="0.8"/>
<line x1="46" y1="484.0" x2="47.6" y2="484.0" stroke="#888" stroke-width="0.7"/>
<text x="44" y="503.5" font-family="'Liberation Sans', Arial, sans-serif" font-size="12.2" fill="#444" text-anchor="end" textLength="17.4" lengthAdjust="spacingAndGlyphs">600</text>
<line x1="44.5" y1="499.1" x2="47.6" y2="499.1" stroke="#666" stroke-width="0.8"/>
<text transform="translate(22.9,498.1) rotate(-90)" font-family="'Liberation Sans', Arial, sans-serif" font-size="14.9" fill="#333" textLength="167.6" lengthAdjust="spacingAndGlyphs">Distance along fiber [m]</text>
<line x1="48.0" y1="503.0" x2="48.0" y2="507.0" stroke="#555" stroke-width="0.8"/>
<text x="48.0" y="520.3" font-family="'Liberation Sans', Arial, sans-serif" font-size="12" fill="#444" text-anchor="middle">0</text>
<line x1="140.3" y1="503.0" x2="140.3" y2="507.0" stroke="#555" stroke-width="0.8"/>
<text x="140.3" y="520.3" font-family="'Liberation Sans', Arial, sans-serif" font-size="12" fill="#444" text-anchor="middle">1</text>
<line x1="232.5" y1="503.0" x2="232.5" y2="507.0" stroke="#555" stroke-width="0.8"/>
<text x="232.5" y="520.3" font-family="'Liberation Sans', Arial, sans-serif" font-size="12" fill="#444" text-anchor="middle">2</text>
<line x1="324.8" y1="503.0" x2="324.8" y2="507.0" stroke="#555" stroke-width="0.8"/>
<text x="324.8" y="520.3" font-family="'Liberation Sans', Arial, sans-serif" font-size="12" fill="#444" text-anchor="middle">3</text>
<line x1="417.0" y1="503.0" x2="417.0" y2="507.0" stroke="#555" stroke-width="0.8"/>
<text x="417.0" y="520.3" font-family="'Liberation Sans', Arial, sans-serif" font-size="12" fill="#444" text-anchor="middle">4</text>
<line x1="509.3" y1="503.0" x2="509.3" y2="507.0" stroke="#555" stroke-width="0.8"/>
<text x="509.3" y="520.3" font-family="'Liberation Sans', Arial, sans-serif" font-size="12" fill="#444" text-anchor="middle">5</text>
<text x="243" y="532.4" font-family="'Liberation Sans', Arial, sans-serif" font-size="16.3" fill="#444" textLength="50.3" lengthAdjust="spacingAndGlyphs">Time [s]</text>
<line x1="178.0" y1="317.8" x2="178.0" y2="503.0" stroke="#c8429f" stroke-width="1.25" stroke-dasharray="2.5 1.5"/>
<line x1="337.5" y1="317.8" x2="337.5" y2="503.0" stroke="#c8429f" stroke-width="1.25" stroke-dasharray="2.5 1.5"/>
<line x1="381.8" y1="317.8" x2="381.8" y2="503.0" stroke="#c8429f" stroke-width="1.25" stroke-dasharray="2.5 1.5"/>
<line x1="180" y1="414" x2="303.5" y2="414" stroke="#999" stroke-width="1.1" stroke-dasharray="5 2.6"/>
<line x1="303.3" y1="360.8" x2="337" y2="360.8" stroke="#999" stroke-width="1.1" stroke-dasharray="5 2.6"/>
<rect x="98" y="410.8" width="28.5" height="3.7" fill="#2b55a5"/>
<polygon points="89.00,412.60 98.70,408.30 98.70,416.90" fill="#2b55a5"/>
<rect x="136.8" y="410.8" width="30" height="3.7" fill="#2b55a5"/>
<polygon points="174.70,412.60 166.20,408.30 166.20,416.90" fill="#2b55a5"/>
<rect x="298.3" y="367.8" width="4.0" height="14.0" fill="#2b55a5"/>
<polygon points="300.30,363.30 296.20,368.40 304.40,368.40" fill="#2b55a5"/>
<rect x="298.3" y="395.2" width="4.0" height="13.4" fill="#2b55a5"/>
<polygon points="300.30,413.20 296.20,408.10 304.40,408.10" fill="#2b55a5"/>
<path d="M224.42,316.80 L222.86,318.36 L221.31,319.92 L219.76,321.48 L218.23,323.04 L216.71,324.60 L215.20,326.16 L213.70,327.72 L212.21,329.28 L210.74,330.84 L209.28,332.40 L207.83,333.96 L206.39,335.52 L204.97,337.08 L203.56,338.64 L202.16,340.20 L200.78,341.76 L199.41,343.32 L198.06,344.88 L196.73,346.44 L195.41,348.00 L194.10,349.56 L192.82,351.12 L191.55,352.68 L190.30,354.24 L189.07,355.80 L187.86,357.36 L186.67,358.92 L185.49,360.48 L184.34,362.04 L183.21,363.60 L182.10,365.16 L181.01,366.72 L179.95,368.28 L178.90,369.84 L177.88,371.40 L176.89,372.96 L175.92,374.52 L174.98,376.08 L174.06,377.64 L173.17,379.20 L172.30,380.76 L171.47,382.32 L170.66,383.88 L169.88,385.44 L169.13,387.00 L168.41,388.56 L167.72,390.12 L167.06,391.68 L166.43,393.24 L165.84,394.80 L165.28,396.36 L164.75,397.92 L164.25,399.48 L163.79,401.04 L163.36,402.60 L162.97,404.16 L162.61,405.72 L162.29,407.28 L162.00,408.84 L161.75,410.40 L161.53,411.96 L161.35,413.52 L161.21,415.08 L161.10,416.64 L161.03,418.20 L161.00,419.76 L161.03,421.32 L161.21,422.88 L161.55,424.44 L162.03,426.00 L162.63,427.56 L163.36,429.12 L164.17,430.68 L165.08,432.24 L166.05,433.80 L167.08,435.36 L168.16,436.92 L169.29,438.48 L170.45,440.04 L171.64,441.60 L172.86,443.16 L174.10,444.72 L175.36,446.28 L176.63,447.84 L177.92,449.40 L179.23,450.96 L180.54,452.52 L181.87,454.08 L183.20,455.64 L184.54,457.20 L185.89,458.76 L187.24,460.32 L188.60,461.88 L189.97,463.44 L191.34,465.00 L192.71,466.56 L194.09,468.12 L195.47,469.68 L196.85,471.24 L198.24,472.80 L199.63,474.36 L201.02,475.92 L202.42,477.48 L203.81,479.04 L205.21,480.60 L206.61,482.16 L208.01,483.72 L209.42,485.28 L210.82,486.84 L212.23,488.40 L213.64,489.96 L215.04,491.52 L216.45,493.08 L217.87,494.64 L219.28,496.20 L220.69,497.76 L222.10,499.32 L223.52,500.88 L224.93,502.44 L226.35,504.00 L268.32,504.00 L266.85,502.44 L265.39,500.88 L263.93,499.32 L262.47,497.76 L261.02,496.20 L259.57,494.64 L258.12,493.08 L256.67,491.52 L255.23,489.96 L253.79,488.40 L252.36,486.84 L250.93,485.28 L249.50,483.72 L248.08,482.16 L246.67,480.60 L245.25,479.04 L243.85,477.48 L242.45,475.92 L241.05,474.36 L239.67,472.80 L238.28,471.24 L236.91,469.68 L235.55,468.12 L234.19,466.56 L232.84,465.00 L231.50,463.44 L230.17,461.88 L228.85,460.32 L227.55,458.76 L226.25,457.20 L224.97,455.64 L223.71,454.08 L222.46,452.52 L221.23,450.96 L220.01,449.40 L218.82,447.84 L217.65,446.28 L216.50,444.72 L215.37,443.16 L214.28,441.60 L213.21,440.04 L212.17,438.48 L211.17,436.92 L210.21,435.36 L209.29,433.80 L208.41,432.24 L207.58,430.68 L206.79,429.12 L206.07,427.56 L205.40,426.00 L204.79,424.44 L204.25,422.88 L203.78,421.32 L203.38,419.76 L203.05,418.20 L202.81,416.64 L202.64,415.08 L202.55,413.52 L202.55,411.96 L202.61,410.40 L202.73,408.84 L202.92,407.28 L203.16,405.72 L203.47,404.16 L203.84,402.60 L204.27,401.04 L204.75,399.48 L205.29,397.92 L205.88,396.36 L206.53,394.80 L207.22,393.24 L207.97,391.68 L208.75,390.12 L209.59,388.56 L210.46,387.00 L211.37,385.44 L212.32,383.88 L213.31,382.32 L214.33,380.76 L215.39,379.20 L216.47,377.64 L217.59,376.08 L218.73,374.52 L219.90,372.96 L221.09,371.40 L222.31,369.84 L223.54,368.28 L224.80,366.72 L226.08,365.16 L227.38,363.60 L228.70,362.04 L230.03,360.48 L231.38,358.92 L232.75,357.36 L234.13,355.80 L235.52,354.24 L236.92,352.68 L238.34,351.12 L239.77,349.56 L241.21,348.00 L242.66,346.44 L244.13,344.88 L245.60,343.32 L247.08,341.76 L248.57,340.20 L250.06,338.64 L251.57,337.08 L253.08,335.52 L254.60,333.96 L256.13,332.40 L257.66,330.84 L259.20,329.28 L260.74,327.72 L262.29,326.16 L263.85,324.60 L265.41,323.04 L266.98,321.48 L268.55,319.92 L270.13,318.36 L271.71,316.80 Z" fill="#f08c05" fill-opacity="0.2" clip-path="url(#box)"/>
<path d="M112.20,315.80 L111.61,317.69 L111.01,319.58 L110.41,321.48 L109.82,323.37 L109.22,325.26 L108.63,327.15 L108.03,329.04 L107.44,330.94 L106.84,332.83 L106.25,334.72 L105.66,336.61 L105.07,338.50 L104.47,340.40 L103.88,342.29 L103.29,344.18 L102.70,346.07 L102.11,347.96 L101.52,349.86 L100.94,351.75 L100.35,353.64 L99.76,355.53 L99.18,357.42 L98.60,359.32 L98.02,361.21 L97.44,363.10 L96.86,364.99 L96.28,366.88 L95.71,368.78 L95.14,370.67 L94.57,372.56 L94.00,374.45 L93.44,376.34 L92.88,378.24 L92.33,380.13 L91.78,382.02 L91.24,383.91 L90.71,385.80 L90.18,387.70 L89.67,389.59 L89.17,391.48 L88.68,393.37 L88.21,395.26 L87.76,397.16 L87.34,399.05 L86.95,400.94 L86.60,402.83 L86.29,404.72 L86.04,406.62 L85.86,408.51 L85.74,410.40 L85.70,412.29 L85.77,414.18 L85.96,416.08 L86.24,417.97 L86.60,419.86 L87.00,421.75 L87.43,423.64 L87.88,425.54 L88.35,427.43 L88.82,429.32 L89.31,431.21 L89.80,433.10 L90.30,435.00 L90.80,436.89 L91.31,438.78 L91.81,440.67 L92.32,442.56 L92.83,444.46 L93.35,446.35 L93.86,448.24 L94.37,450.13 L94.89,452.02 L95.40,453.92 L95.92,455.81 L96.44,457.70 L96.96,459.59 L97.47,461.48 L97.99,463.38 L98.51,465.27 L99.03,467.16 L99.55,469.05 L100.07,470.94 L100.59,472.84 L101.11,474.73 L101.63,476.62 L102.15,478.51 L102.68,480.40 L103.20,482.30 L103.72,484.19 L104.24,486.08 L104.76,487.97 L105.28,489.86 L105.81,491.76 L106.33,493.65 L106.85,495.54 L107.37,497.43 L107.89,499.32 L108.42,501.22 L108.94,503.11 L109.46,505.00" fill="none" stroke="#222" stroke-width="1.1" stroke-dasharray="6.5 3" clip-path="url(#box)"/>
<path d="M139.03,315.80 L137.29,317.69 L135.56,319.58 L133.85,321.48 L132.16,323.37 L130.49,325.26 L128.84,327.15 L127.20,329.04 L125.58,330.94 L123.99,332.83 L122.41,334.72 L120.86,336.61 L119.32,338.50 L117.82,340.40 L116.33,342.29 L114.87,344.18 L113.43,346.07 L112.02,347.96 L110.64,349.86 L109.28,351.75 L107.95,353.64 L106.65,355.53 L105.38,357.42 L104.15,359.32 L102.94,361.21 L101.77,363.10 L100.63,364.99 L99.52,366.88 L98.45,368.78 L97.42,370.67 L96.43,372.56 L95.47,374.45 L94.55,376.34 L93.68,378.24 L92.84,380.13 L92.05,382.02 L91.30,383.91 L90.59,385.80 L89.93,387.70 L89.32,389.59 L88.75,391.48 L88.22,393.37 L87.75,395.26 L87.32,397.16 L86.94,399.05 L86.62,400.94 L86.34,402.83 L86.11,404.72 L85.93,406.62 L85.80,408.51 L85.73,410.40 L85.70,412.29 L85.90,414.18 L86.44,416.08 L87.20,417.97 L88.10,419.86 L89.07,421.75 L90.09,423.64 L91.14,425.54 L92.21,427.43 L93.30,429.32 L94.39,431.21 L95.50,433.10 L96.60,435.00 L97.72,436.89 L98.84,438.78 L99.96,440.67 L101.08,442.56 L102.21,444.46 L103.33,446.35 L104.46,448.24 L105.59,450.13 L106.72,452.02 L107.85,453.92 L108.99,455.81 L110.12,457.70 L111.25,459.59 L112.39,461.48 L113.52,463.38 L114.66,465.27 L115.79,467.16 L116.93,469.05 L118.07,470.94 L119.20,472.84 L120.34,474.73 L121.48,476.62 L122.61,478.51 L123.75,480.40 L124.89,482.30 L126.03,484.19 L127.16,486.08 L128.30,487.97 L129.44,489.86 L130.58,491.76 L131.72,493.65 L132.86,495.54 L133.99,497.43 L135.13,499.32 L136.27,501.22 L137.41,503.11 L138.55,505.00" fill="none" stroke="#222" stroke-width="1.1" stroke-dasharray="6.5 3" clip-path="url(#box)"/>
<path d="M166.03,315.80 L164.10,317.69 L162.16,319.58 L160.23,321.48 L158.31,323.37 L156.38,325.26 L154.46,327.15 L152.54,329.04 L150.62,330.94 L148.71,332.83 L146.80,334.72 L144.89,336.61 L142.99,338.50 L141.09,340.40 L139.20,342.29 L137.31,344.18 L135.42,346.07 L133.54,347.96 L131.67,349.86 L129.81,351.75 L127.95,353.64 L126.10,355.53 L124.26,357.42 L122.42,359.32 L120.60,361.21 L118.79,363.10 L116.99,364.99 L115.20,366.88 L113.43,368.78 L111.68,370.67 L109.94,372.56 L108.23,374.45 L106.53,376.34 L104.86,378.24 L103.22,380.13 L101.62,382.02 L100.04,383.91 L98.51,385.80 L97.03,387.70 L95.59,389.59 L94.22,391.48 L92.91,393.37 L91.67,395.26 L90.52,397.16 L89.47,399.05 L88.52,400.94 L87.69,402.83 L86.99,404.72 L86.44,406.62 L86.03,408.51 L85.78,410.40 L85.70,412.29 L86.18,414.18 L87.32,416.08 L88.74,417.97 L90.27,419.86 L91.86,421.75 L93.48,423.64 L95.12,425.54 L96.77,427.43 L98.43,429.32 L100.09,431.21 L101.76,433.10 L103.43,435.00 L105.10,436.89 L106.77,438.78 L108.45,440.67 L110.12,442.56 L111.80,444.46 L113.48,446.35 L115.16,448.24 L116.84,450.13 L118.52,452.02 L120.20,453.92 L121.88,455.81 L123.57,457.70 L125.25,459.59 L126.93,461.48 L128.61,463.38 L130.30,465.27 L131.98,467.16 L133.66,469.05 L135.35,470.94 L137.03,472.84 L138.71,474.73 L140.40,476.62 L142.08,478.51 L143.77,480.40 L145.45,482.30 L147.13,484.19 L148.82,486.08 L150.50,487.97 L152.19,489.86 L153.87,491.76 L155.56,493.65 L157.24,495.54 L158.93,497.43 L160.61,499.32 L162.30,501.22 L163.98,503.11 L165.67,505.00" fill="none" stroke="#222" stroke-width="1.1" stroke-dasharray="6.5 3" clip-path="url(#box)"/>
<path d="M193.61,315.80 L191.02,317.69 L188.43,319.58 L185.84,321.48 L183.25,323.37 L180.67,325.26 L178.09,327.15 L175.51,329.04 L172.94,330.94 L170.37,332.83 L167.81,334.72 L165.25,336.61 L162.70,338.50 L160.15,340.40 L157.61,342.29 L155.08,344.18 L152.55,346.07 L150.03,347.96 L147.52,349.86 L145.01,351.75 L142.52,353.64 L140.04,355.53 L137.56,357.42 L135.10,359.32 L132.66,361.21 L130.23,363.10 L127.81,364.99 L125.41,366.88 L123.03,368.78 L120.68,370.67 L118.34,372.56 L116.04,374.45 L113.76,376.34 L111.52,378.24 L109.31,380.13 L107.15,382.02 L105.04,383.91 L102.97,385.80 L100.97,387.70 L99.04,389.59 L97.19,391.48 L95.43,393.37 L93.76,395.26 L92.21,397.16 L90.79,399.05 L89.51,400.94 L88.39,402.83 L87.45,404.72 L86.70,406.62 L86.15,408.51 L85.81,410.40 L85.70,412.29 L86.36,414.18 L87.93,416.08 L89.87,417.97 L91.97,419.86 L94.15,421.75 L96.36,423.64 L98.61,425.54 L100.87,427.43 L103.14,429.32 L105.42,431.21 L107.70,433.10 L109.99,435.00 L112.28,436.89 L114.58,438.78 L116.87,440.67 L119.17,442.56 L121.47,444.46 L123.77,446.35 L126.07,448.24 L128.37,450.13 L130.68,452.02 L132.98,453.92 L135.29,455.81 L137.59,457.70 L139.90,459.59 L142.20,461.48 L144.51,463.38 L146.81,465.27 L149.12,467.16 L151.43,469.05 L153.73,470.94 L156.04,472.84 L158.35,474.73 L160.66,476.62 L162.96,478.51 L165.27,480.40 L167.58,482.30 L169.89,484.19 L172.20,486.08 L174.51,487.97 L176.81,489.86 L179.12,491.76 L181.43,493.65 L183.74,495.54 L186.05,497.43 L188.36,499.32 L190.67,501.22 L192.97,503.11 L195.28,505.00" fill="none" stroke="#222" stroke-width="1.1" stroke-dasharray="6.5 3" clip-path="url(#box)"/>
<path d="M248.25,316.80 L246.67,318.36 L245.08,319.92 L243.51,321.48 L241.93,323.04 L240.37,324.60 L238.81,326.16 L237.26,327.72 L235.71,329.28 L234.17,330.84 L232.64,332.40 L231.12,333.96 L229.60,335.52 L228.10,337.08 L226.60,338.64 L225.11,340.20 L223.63,341.76 L222.16,343.32 L220.70,344.88 L219.26,346.44 L217.82,348.00 L216.40,349.56 L214.98,351.12 L213.58,352.68 L212.20,354.24 L210.82,355.80 L209.47,357.36 L208.12,358.92 L206.80,360.48 L205.49,362.04 L204.19,363.60 L202.92,365.16 L201.66,366.72 L200.43,368.28 L199.21,369.84 L198.02,371.40 L196.85,372.96 L195.71,374.52 L194.58,376.08 L193.49,377.64 L192.42,379.20 L191.38,380.76 L190.37,382.32 L189.39,383.88 L188.44,385.44 L187.53,387.00 L186.65,388.56 L185.81,390.12 L185.00,391.68 L184.23,393.24 L183.50,394.80 L182.82,396.36 L182.17,397.92 L181.57,399.48 L181.02,401.04 L180.51,402.60 L180.05,404.16 L179.64,405.72 L179.27,407.28 L178.96,408.84 L178.70,410.40 L178.49,411.96 L178.34,413.52 L178.23,415.08 L178.18,416.64 L178.19,418.20 L178.31,419.76 L178.52,421.32 L178.84,422.88 L179.27,424.44 L179.78,426.00 L180.39,427.56 L181.08,429.12 L181.84,430.68 L182.69,432.24 L183.59,433.80 L184.56,435.36 L185.59,436.92 L186.67,438.48 L187.79,440.04 L188.95,441.60 L190.16,443.16 L191.40,444.72 L192.67,446.28 L193.97,447.84 L195.30,449.40 L196.65,450.96 L198.02,452.52 L199.41,454.08 L200.83,455.64 L202.25,457.20 L203.70,458.76 L205.16,460.32 L206.63,461.88 L208.11,463.44 L209.60,465.00 L211.11,466.56 L212.62,468.12 L214.15,469.68 L215.68,471.24 L217.21,472.80 L218.76,474.36 L220.31,475.92 L221.87,477.48 L223.44,479.04 L225.01,480.60 L226.58,482.16 L228.16,483.72 L229.74,485.28 L231.33,486.84 L232.92,488.40 L234.52,489.96 L236.12,491.52 L237.72,493.08 L239.33,494.64 L240.94,496.20 L242.55,497.76 L244.16,499.32 L245.78,500.88 L247.40,502.44 L249.02,504.00" fill="none" stroke="#f29aac" stroke-width="3.4" clip-path="url(#box)"/><path d="M248.25,316.80 L246.67,318.36 L245.08,319.92 L243.51,321.48 L241.93,323.04 L240.37,324.60 L238.81,326.16 L237.26,327.72 L235.71,329.28 L234.17,330.84 L232.64,332.40 L231.12,333.96 L229.60,335.52 L228.10,337.08 L226.60,338.64 L225.11,340.20 L223.63,341.76 L222.16,343.32 L220.70,344.88 L219.26,346.44 L217.82,348.00 L216.40,349.56 L214.98,351.12 L213.58,352.68 L212.20,354.24 L210.82,355.80 L209.47,357.36 L208.12,358.92 L206.80,360.48 L205.49,362.04 L204.19,363.60 L202.92,365.16 L201.66,366.72 L200.43,368.28 L199.21,369.84 L198.02,371.40 L196.85,372.96 L195.71,374.52 L194.58,376.08 L193.49,377.64 L192.42,379.20 L191.38,380.76 L190.37,382.32 L189.39,383.88 L188.44,385.44 L187.53,387.00 L186.65,388.56 L185.81,390.12 L185.00,391.68 L184.23,393.24 L183.50,394.80 L182.82,396.36 L182.17,397.92 L181.57,399.48 L181.02,401.04 L180.51,402.60 L180.05,404.16 L179.64,405.72 L179.27,407.28 L178.96,408.84 L178.70,410.40 L178.49,411.96 L178.34,413.52 L178.23,415.08 L178.18,416.64 L178.19,418.20 L178.31,419.76 L178.52,421.32 L178.84,422.88 L179.27,424.44 L179.78,426.00 L180.39,427.56 L181.08,429.12 L181.84,430.68 L182.69,432.24 L183.59,433.80 L184.56,435.36 L185.59,436.92 L186.67,438.48 L187.79,440.04 L188.95,441.60 L190.16,443.16 L191.40,444.72 L192.67,446.28 L193.97,447.84 L195.30,449.40 L196.65,450.96 L198.02,452.52 L199.41,454.08 L200.83,455.64 L202.25,457.20 L203.70,458.76 L205.16,460.32 L206.63,461.88 L208.11,463.44 L209.60,465.00 L211.11,466.56 L212.62,468.12 L214.15,469.68 L215.68,471.24 L217.21,472.80 L218.76,474.36 L220.31,475.92 L221.87,477.48 L223.44,479.04 L225.01,480.60 L226.58,482.16 L228.16,483.72 L229.74,485.28 L231.33,486.84 L232.92,488.40 L234.52,489.96 L236.12,491.52 L237.72,493.08 L239.33,494.64 L240.94,496.20 L242.55,497.76 L244.16,499.32 L245.78,500.88 L247.40,502.44 L249.02,504.00" fill="none" stroke="#2e1a1c" stroke-width="1.1" clip-path="url(#box)"/>
<path d="M369.63,315.80 L368.13,317.38 L366.63,318.95 L365.14,320.53 L363.65,322.11 L362.18,323.68 L360.71,325.26 L359.25,326.84 L357.80,328.41 L356.36,329.99 L354.93,331.57 L353.52,333.14 L352.13,334.72 L350.76,336.30 L349.41,337.87 L348.09,339.45 L346.80,341.03 L345.55,342.60 L344.35,344.18 L343.21,345.76 L342.14,347.33 L341.15,348.91 L340.25,350.49 L339.48,352.06 L338.84,353.64 L338.36,355.22 L338.05,356.79 L337.93,358.37 L337.94,359.95 L337.97,361.52 L338.03,363.10 L338.10,364.68 L338.21,366.25 L338.33,367.83 L338.48,369.41 L338.65,370.98 L338.84,372.56 L339.05,374.14 L339.29,375.71 L339.55,377.29 L339.83,378.87 L340.13,380.44 L340.45,382.02 L340.79,383.60 L341.15,385.17 L341.53,386.75 L341.93,388.33 L342.35,389.90 L342.79,391.48 L343.25,393.06 L343.73,394.63 L344.22,396.21 L344.73,397.79 L345.26,399.36 L345.80,400.94 L346.36,402.52 L346.94,404.09 L347.53,405.67 L348.13,407.25 L348.75,408.82 L349.39,410.40 L350.04,411.98 L350.70,413.55 L351.37,415.13 L352.06,416.71 L352.76,418.28 L353.47,419.86 L354.19,421.44 L354.93,423.01 L355.67,424.59 L356.43,426.17 L357.19,427.74 L357.97,429.32 L358.76,430.90 L359.55,432.47 L360.36,434.05 L361.17,435.63 L362.00,437.20 L362.83,438.78 L363.67,440.36 L364.51,441.93 L365.37,443.51 L366.23,445.09 L367.10,446.66 L367.98,448.24 L368.86,449.82 L369.75,451.39 L370.65,452.97 L371.55,454.55 L372.46,456.12 L373.38,457.70 L374.30,459.28 L375.23,460.85 L376.16,462.43 L377.10,464.01 L378.04,465.58 L378.99,467.16 L379.94,468.74 L380.90,470.31 L381.86,471.89 L382.83,473.47 L383.80,475.04 L384.78,476.62 L385.75,478.20 L386.74,479.77 L387.73,481.35 L388.72,482.93 L389.71,484.50 L390.71,486.08 L391.71,487.66 L392.72,489.23 L393.73,490.81 L394.74,492.39 L395.75,493.96 L396.77,495.54 L397.79,497.12 L398.82,498.69 L399.84,500.27 L400.87,501.85 L401.91,503.42 L402.94,505.00" fill="none" stroke="#e993c9" stroke-width="4.0" clip-path="url(#box)"/><path d="M369.63,315.80 L368.13,317.38 L366.63,318.95 L365.14,320.53 L363.65,322.11 L362.18,323.68 L360.71,325.26 L359.25,326.84 L357.80,328.41 L356.36,329.99 L354.93,331.57 L353.52,333.14 L352.13,334.72 L350.76,336.30 L349.41,337.87 L348.09,339.45 L346.80,341.03 L345.55,342.60 L344.35,344.18 L343.21,345.76 L342.14,347.33 L341.15,348.91 L340.25,350.49 L339.48,352.06 L338.84,353.64 L338.36,355.22 L338.05,356.79 L337.93,358.37 L337.94,359.95 L337.97,361.52 L338.03,363.10 L338.10,364.68 L338.21,366.25 L338.33,367.83 L338.48,369.41 L338.65,370.98 L338.84,372.56 L339.05,374.14 L339.29,375.71 L339.55,377.29 L339.83,378.87 L340.13,380.44 L340.45,382.02 L340.79,383.60 L341.15,385.17 L341.53,386.75 L341.93,388.33 L342.35,389.90 L342.79,391.48 L343.25,393.06 L343.73,394.63 L344.22,396.21 L344.73,397.79 L345.26,399.36 L345.80,400.94 L346.36,402.52 L346.94,404.09 L347.53,405.67 L348.13,407.25 L348.75,408.82 L349.39,410.40 L350.04,411.98 L350.70,413.55 L351.37,415.13 L352.06,416.71 L352.76,418.28 L353.47,419.86 L354.19,421.44 L354.93,423.01 L355.67,424.59 L356.43,426.17 L357.19,427.74 L357.97,429.32 L358.76,430.90 L359.55,432.47 L360.36,434.05 L361.17,435.63 L362.00,437.20 L362.83,438.78 L363.67,440.36 L364.51,441.93 L365.37,443.51 L366.23,445.09 L367.10,446.66 L367.98,448.24 L368.86,449.82 L369.75,451.39 L370.65,452.97 L371.55,454.55 L372.46,456.12 L373.38,457.70 L374.30,459.28 L375.23,460.85 L376.16,462.43 L377.10,464.01 L378.04,465.58 L378.99,467.16 L379.94,468.74 L380.90,470.31 L381.86,471.89 L382.83,473.47 L383.80,475.04 L384.78,476.62 L385.75,478.20 L386.74,479.77 L387.73,481.35 L388.72,482.93 L389.71,484.50 L390.71,486.08 L391.71,487.66 L392.72,489.23 L393.73,490.81 L394.74,492.39 L395.75,493.96 L396.77,495.54 L397.79,497.12 L398.82,498.69 L399.84,500.27 L400.87,501.85 L401.91,503.42 L402.94,505.00" fill="none" stroke="#3a2030" stroke-width="1.2" clip-path="url(#box)"/>
<path d="M441.08,315.80 L440.31,317.38 L439.55,318.95 L438.80,320.53 L438.04,322.11 L437.29,323.68 L436.55,325.26 L435.81,326.84 L435.07,328.41 L434.34,329.99 L433.61,331.57 L432.89,333.14 L432.17,334.72 L431.45,336.30 L430.74,337.87 L430.03,339.45 L429.33,341.03 L428.63,342.60 L427.93,344.18 L427.24,345.76 L426.56,347.33 L425.87,348.91 L425.20,350.49 L424.52,352.06 L423.85,353.64 L423.19,355.22 L422.53,356.79 L421.87,358.37 L421.22,359.95 L420.58,361.52 L419.94,363.10 L419.30,364.68 L418.67,366.25 L418.04,367.83 L417.42,369.41 L416.80,370.98 L416.18,372.56 L415.57,374.14 L414.97,375.71 L414.37,377.29 L413.78,378.87 L413.19,380.44 L412.60,382.02 L412.02,383.60 L411.45,385.17 L410.88,386.75 L410.31,388.33 L409.75,389.90 L409.19,391.48 L408.64,393.06 L408.10,394.63 L407.56,396.21 L407.02,397.79 L406.49,399.36 L405.97,400.94 L405.45,402.52 L404.93,404.09 L404.42,405.67 L403.92,407.25 L403.42,408.82 L402.92,410.40 L402.44,411.98 L401.95,413.55 L401.47,415.13 L401.00,416.71 L400.53,418.28 L400.07,419.86 L399.61,421.44 L399.16,423.01 L398.72,424.59 L398.28,426.17 L397.84,427.74 L397.41,429.32 L396.99,430.90 L396.57,432.47 L396.16,434.05 L395.75,435.63 L395.35,437.20 L394.95,438.78 L394.56,440.36 L394.18,441.93 L393.80,443.51 L393.42,445.09 L393.06,446.66 L392.69,448.24 L392.34,449.82 L391.99,451.39 L391.64,452.97 L391.30,454.55 L390.97,456.12 L390.64,457.70 L390.32,459.28 L390.00,460.85 L389.69,462.43 L389.39,464.01 L389.09,465.58 L388.80,467.16 L388.51,468.74 L388.23,470.31 L387.96,471.89 L387.69,473.47 L387.43,475.04 L387.17,476.62 L386.92,478.20 L386.68,479.77 L386.44,481.35 L386.21,482.93 L385.98,484.50 L385.76,486.08 L385.55,487.66 L385.34,489.23 L385.14,490.81 L384.94,492.39 L384.75,493.96 L384.57,495.54 L384.39,497.12 L384.22,498.69 L384.05,500.27 L383.89,501.85 L383.74,503.42 L383.60,505.00" fill="none" stroke="#ef9fd2" stroke-width="6.0" clip-path="url(#box)"/><path d="M441.08,315.80 L440.31,317.38 L439.55,318.95 L438.80,320.53 L438.04,322.11 L437.29,323.68 L436.55,325.26 L435.81,326.84 L435.07,328.41 L434.34,329.99 L433.61,331.57 L432.89,333.14 L432.17,334.72 L431.45,336.30 L430.74,337.87 L430.03,339.45 L429.33,341.03 L428.63,342.60 L427.93,344.18 L427.24,345.76 L426.56,347.33 L425.87,348.91 L425.20,350.49 L424.52,352.06 L423.85,353.64 L423.19,355.22 L422.53,356.79 L421.87,358.37 L421.22,359.95 L420.58,361.52 L419.94,363.10 L419.30,364.68 L418.67,366.25 L418.04,367.83 L417.42,369.41 L416.80,370.98 L416.18,372.56 L415.57,374.14 L414.97,375.71 L414.37,377.29 L413.78,378.87 L413.19,380.44 L412.60,382.02 L412.02,383.60 L411.45,385.17 L410.88,386.75 L410.31,388.33 L409.75,389.90 L409.19,391.48 L408.64,393.06 L408.10,394.63 L407.56,396.21 L407.02,397.79 L406.49,399.36 L405.97,400.94 L405.45,402.52 L404.93,404.09 L404.42,405.67 L403.92,407.25 L403.42,408.82 L402.92,410.40 L402.44,411.98 L401.95,413.55 L401.47,415.13 L401.00,416.71 L400.53,418.28 L400.07,419.86 L399.61,421.44 L399.16,423.01 L398.72,424.59 L398.28,426.17 L397.84,427.74 L397.41,429.32 L396.99,430.90 L396.57,432.47 L396.16,434.05 L395.75,435.63 L395.35,437.20 L394.95,438.78 L394.56,440.36 L394.18,441.93 L393.80,443.51 L393.42,445.09 L393.06,446.66 L392.69,448.24 L392.34,449.82 L391.99,451.39 L391.64,452.97 L391.30,454.55 L390.97,456.12 L390.64,457.70 L390.32,459.28 L390.00,460.85 L389.69,462.43 L389.39,464.01 L389.09,465.58 L388.80,467.16 L388.51,468.74 L388.23,470.31 L387.96,471.89 L387.69,473.47 L387.43,475.04 L387.17,476.62 L386.92,478.20 L386.68,479.77 L386.44,481.35 L386.21,482.93 L385.98,484.50 L385.76,486.08 L385.55,487.66 L385.34,489.23 L385.14,490.81 L384.94,492.39 L384.75,493.96 L384.57,495.54 L384.39,497.12 L384.22,498.69 L384.05,500.27 L383.89,501.85 L383.74,503.42 L383.60,505.00" fill="none" stroke="#3d3d45" stroke-width="1.2" clip-path="url(#box)"/>
<line x1="87.0" y1="344.6" x2="85.5" y2="359.2" stroke="#ef9fd2" stroke-width="6.0"/><line x1="87.0" y1="345.20000000000005" x2="85.5" y2="358.59999999999997" stroke="#333" stroke-width="1.1"/>
<line x1="80.2" y1="355.3" x2="77.6" y2="379.4" stroke="#ef9fd2" stroke-width="6.0"/><line x1="80.2" y1="355.90000000000003" x2="77.6" y2="378.79999999999995" stroke="#333" stroke-width="1.1"/>
<line x1="276.2" y1="387.9" x2="276.0" y2="396.7" stroke="#ef9fd2" stroke-width="5.5"/><line x1="276.2" y1="388.5" x2="276.0" y2="396.09999999999997" stroke="#333" stroke-width="1.1"/>
<line x1="316.6" y1="366.9" x2="314.8" y2="390.6" stroke="#ef9fd2" stroke-width="5.5"/><line x1="316.6" y1="367.5" x2="314.8" y2="390.0" stroke="#333" stroke-width="1.1"/>
<line x1="47.6" y1="317.8" x2="47.6" y2="503.0" stroke="#222" stroke-width="1.9"/>
<line x1="46.7" y1="317.8" x2="300" y2="317.8" stroke="#333" stroke-width="2.2"/>
<line x1="300" y1="318.2" x2="509.3" y2="318.2" stroke="#444" stroke-width="1.5"/>
<line x1="324.7" y1="317.5" x2="409.1" y2="317.5" stroke="#000" stroke-width="2.6"/>
<line x1="509.3" y1="317.8" x2="509.3" y2="503.0" stroke="#333" stroke-width="1.4"/>
<line x1="46.7" y1="503.0" x2="416" y2="503.0" stroke="#111" stroke-width="2.5"/>
<line x1="416" y1="503.0" x2="510.0" y2="503.0" stroke="#333" stroke-width="1.8"/>
<text x="51.4" y="340.2" font-family="'Liberation Sans', Arial, sans-serif" font-size="22" fill="#111">c)</text>
<text x="87.5" y="333" font-family="'DejaVu Sans', sans-serif" font-size="14" font-style="italic" fill="#111">C<tspan font-size="9.5" dy="2.5">N</tspan></text>
<text x="180.2" y="338.2" font-family="'DejaVu Sans', sans-serif" font-size="14" font-style="italic" fill="#111">C<tspan font-size="9.5" dy="2.2">1</tspan></text>
<text x="132" y="373" font-family="'DejaVu Sans', sans-serif" font-size="10.4" fill="#111" textLength="39.5" lengthAdjust="spacingAndGlyphs">C<tspan font-size="8.8" dy="1.4">N</tspan><tspan dy="-1.4"> &gt; C</tspan><tspan font-size="8.8" dy="1.4">1</tspan></text>
<text x="128.0" y="407.6" font-family="'Liberation Sans', Arial, sans-serif" font-size="15" font-style="italic" fill="#111">T</text>
<text x="294.2" y="393.9" font-family="'Liberation Sans', Arial, sans-serif" font-size="15.2" font-style="italic" fill="#111">X</text>
<text x="227.2" y="310.8" font-family="'DejaVu Sans', sans-serif" font-size="11" fill="#222">t<tspan dy="1.8">j</tspan></text>
<text x="260.3" y="310.8" font-family="'DejaVu Sans', sans-serif" font-size="11" fill="#222">t<tspan dy="1.8">j</tspan><tspan dy="-1.8">+Δt</tspan></text>
<text x="222.9" y="388.7" font-family="'DejaVu Sans', sans-serif" font-size="11" fill="#e5b09e">Sliding</text>
<text x="222.9" y="401.9" font-family="'DejaVu Sans', sans-serif" font-size="11" fill="#e5b09e">window</text>
<line x1="241.30" y1="376.70" x2="240.70" y2="360.30" stroke="#e2ad9c" stroke-width="1.3"/><polygon points="240.50,354.80 244.22,360.67 237.22,360.92" fill="#e2ad9c"/>
<text x="272.7" y="450.6" font-family="'DejaVu Sans', sans-serif" font-size="11" fill="#111">Seismic</text>
<text x="272.7" y="463.7" font-family="'DejaVu Sans', sans-serif" font-size="11" fill="#111">event</text>
<line x1="268.50" y1="451.80" x2="223.66" y2="467.61" stroke="#111" stroke-width="1.2"/><polygon points="218.00,469.60 223.07,464.42 225.19,470.46" fill="#111"/>
<line x1="319.50" y1="445.80" x2="351.97" y2="435.77" stroke="#111" stroke-width="1.2"/><polygon points="357.70,434.00 352.43,438.98 350.55,432.86" fill="#111"/>
</svg></body></html>
